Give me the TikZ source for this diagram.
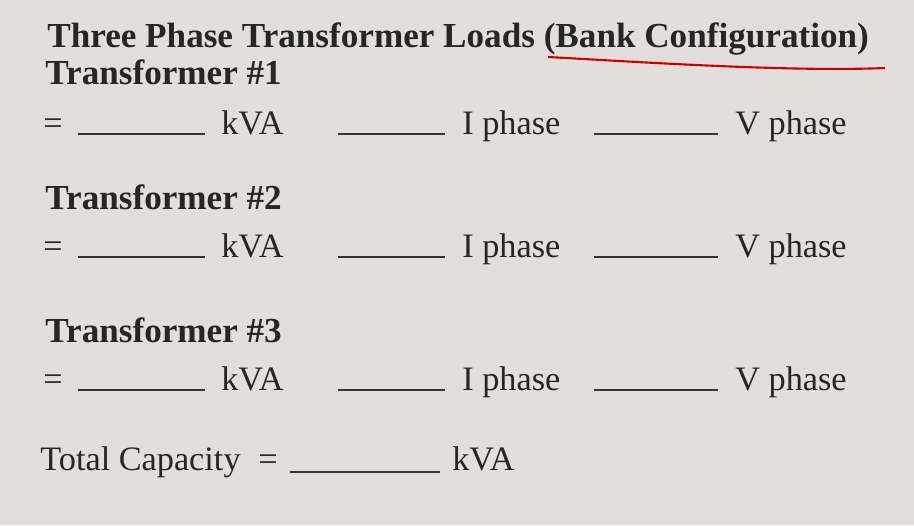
\documentclass[tikz,border=0pt]{standalone}
\usepackage{fontspec}
\setmainfont{Liberation Serif}
\begin{document}
\begin{tikzpicture}[x=0.02cm,y=-0.02cm,
  hd/.style={anchor=base west,inner sep=0,font=\fontsize{20}{22}\selectfont\bfseries,text=black!85},
  tx/.style={anchor=base west,inner sep=0,font=\fontsize{19.5}{22}\selectfont,text=black!85},
  blank/.style={line width=0.8pt,black!80}]
\fill[gray!22!white!95!brown] (0,0) rectangle (914,525);
\useasboundingbox (0,0) rectangle (914,525);
\node[hd] (title) at (47,47) {Three Phase Transformer Loads (Bank Configuration)};
\draw[red!80!black,line width=1.2pt] (548,57) .. controls (640,62) and (790,72) .. (885,68);
\foreach \n/\hy/\ry in {1/84/134, 2/209/257, 3/342/390}{
  \node[hd] (t\n) at (45,\hy) {Transformer \#\n};
  \node[tx] (eq\n) at (43,\ry) {=};
  \coordinate (a\n) at (78,\ry); \coordinate (b\n) at (205,\ry);
  \draw[blank] (a\n) -- (b\n);
  \node[tx] (k\n) at (221,\ry) {kVA};
  \coordinate (c\n) at (338,\ry); \coordinate (d\n) at (445,\ry);
  \draw[blank] (c\n) -- (d\n);
  \node[tx] (i\n) at (462,\ry) {I phase};
  \coordinate (e\n) at (594,\ry); \coordinate (f\n) at (718,\ry);
  \draw[blank] (e\n) -- (f\n);
  \node[tx] (v\n) at (735,\ry) {V phase};
}
\node[tx] (tc) at (40,470) {Total Capacity};
\node[tx] (teq) at (258,470) {=};
\coordinate (g1) at (290,472); \coordinate (g2) at (440,472);
\draw[blank] (g1) -- (g2);
\node[tx] (tk) at (452,470) {kVA};
\end{tikzpicture}
\end{document}
